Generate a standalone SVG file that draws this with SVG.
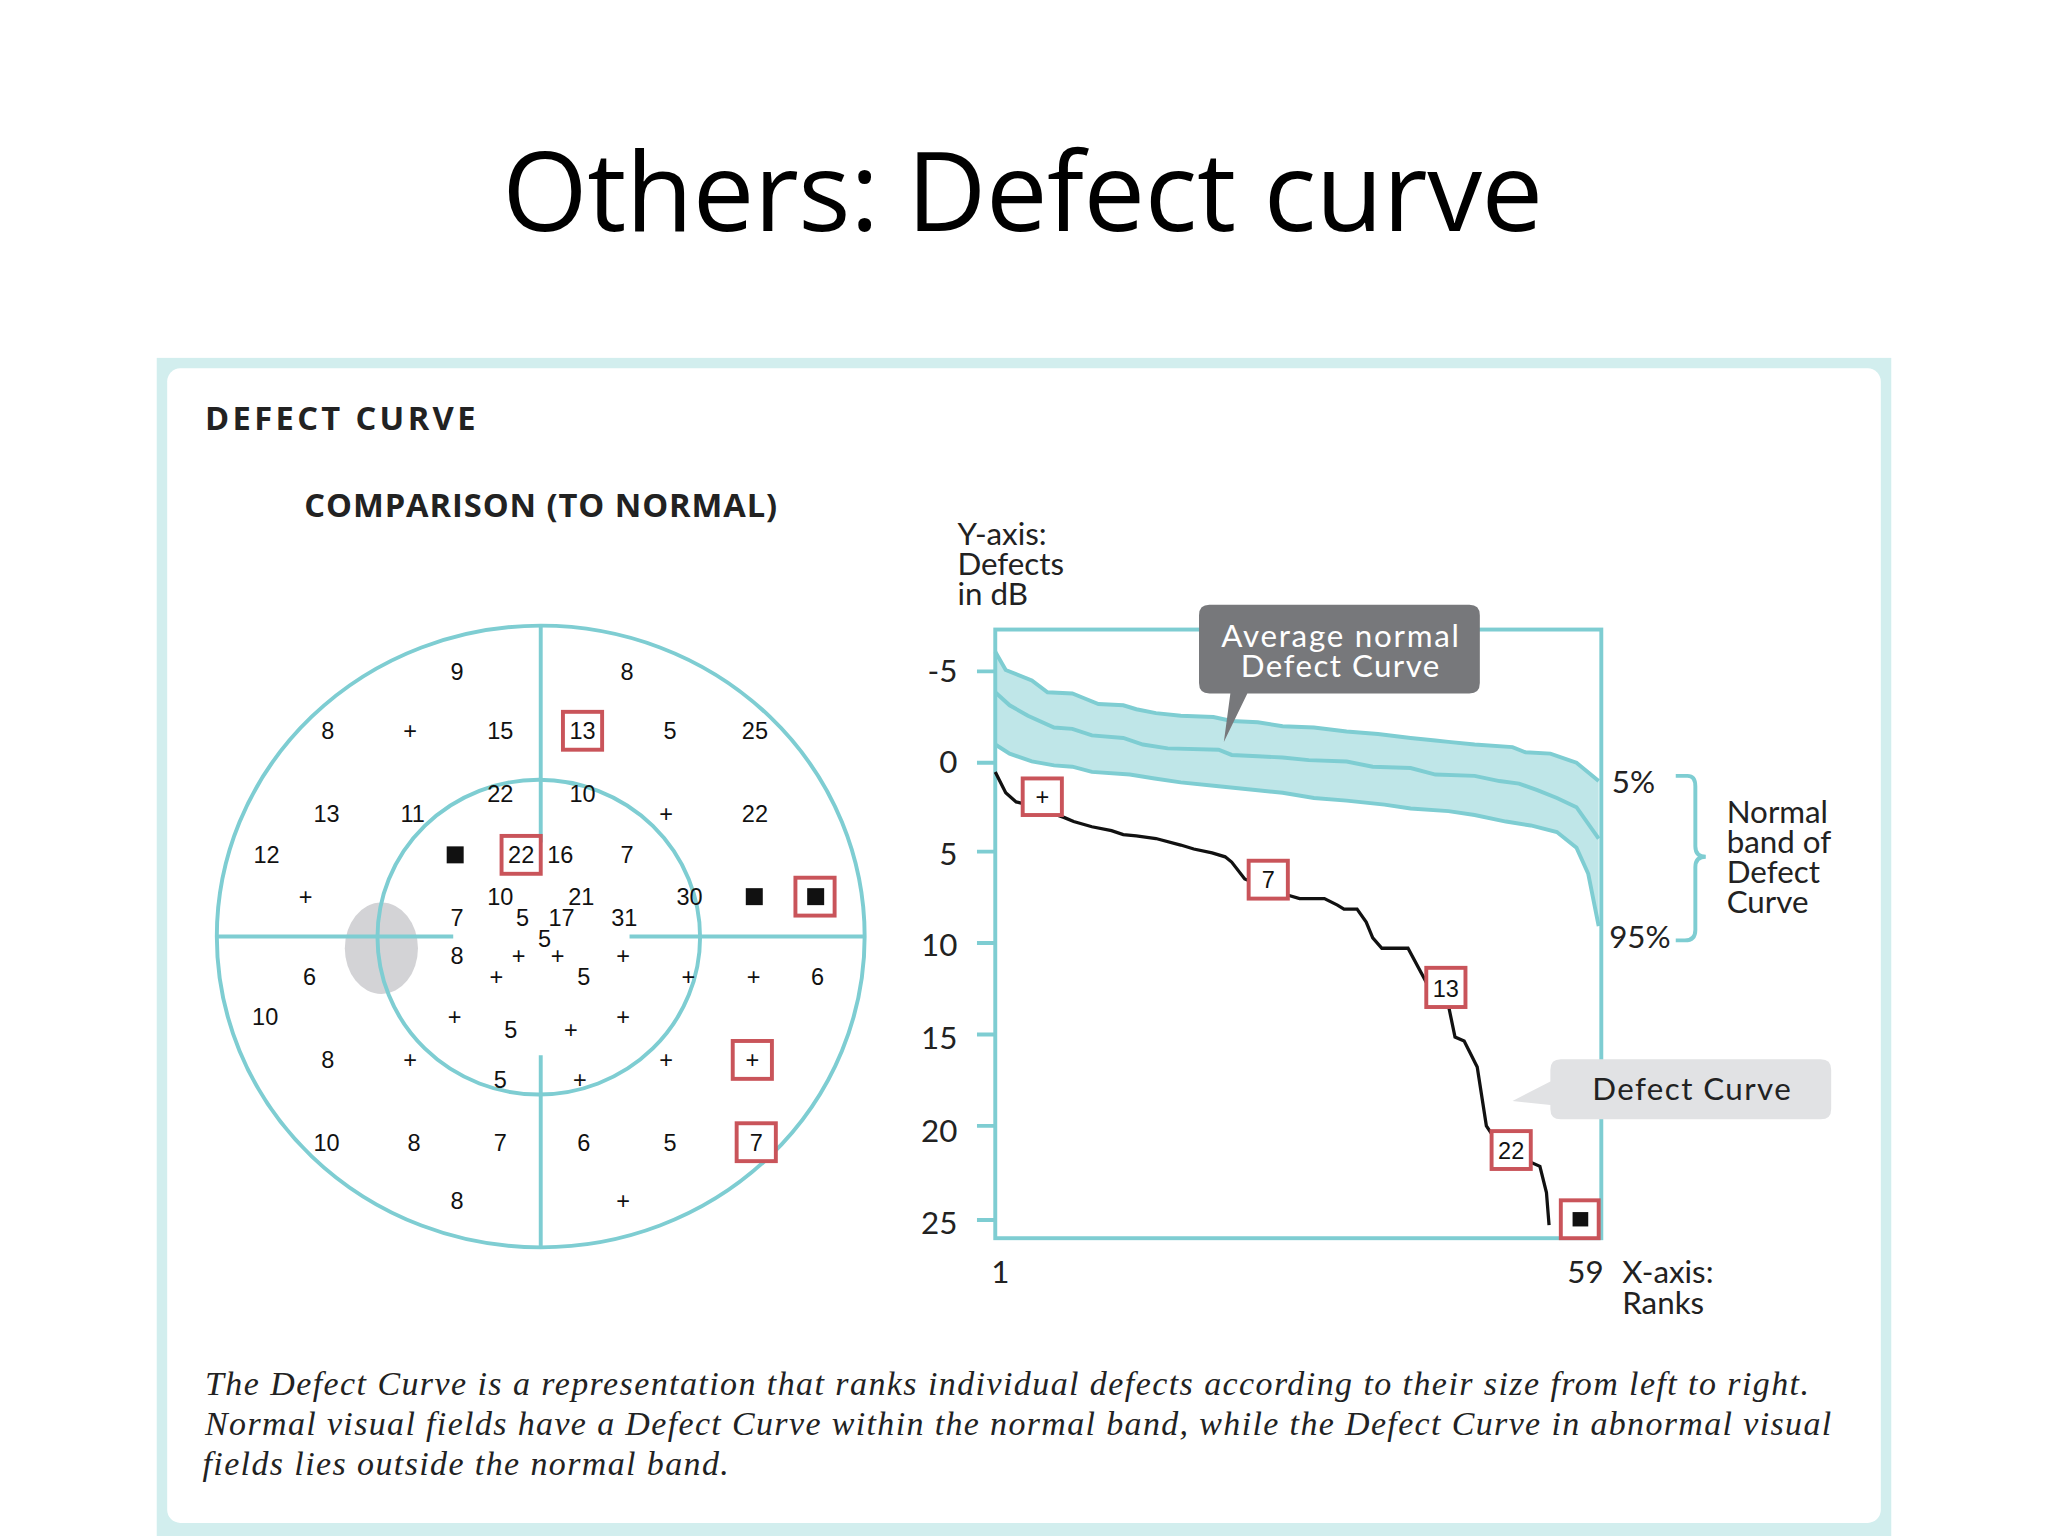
<svg xmlns="http://www.w3.org/2000/svg" width="2048" height="1536" viewBox="0 0 2048 1536">
<style>
.t{stroke:#7ecdd2;stroke-width:3;fill:none}
.n{font-family:"Liberation Sans",Arial,sans-serif;font-size:18px;fill:#111;text-anchor:middle}
.c{font-family:Lato,"Open Sans",sans-serif;font-size:24px;fill:#222}
.rb{fill:#fff;stroke:#c9545a;stroke-width:3}
.h{font-family:"Open Sans",sans-serif;font-weight:bold;fill:#222;font-size:25px}
.cap{font-family:"Liberation Serif",serif;font-style:italic;font-size:26px;fill:#222}
</style>
<rect width="2048" height="1536" fill="#fff"/>
<g transform="scale(1.30612)">
<text x="783" y="177" font-family="Open Sans, sans-serif" font-size="84" text-anchor="middle" fill="#000" textLength="797">Others: Defect curve</text>
<rect x="120" y="274" width="1328" height="920" fill="#d2eeee"/>
<rect x="128" y="282" width="1312" height="884" rx="10" fill="#fff"/>
<text class="h" x="157" y="329" textLength="207">DEFECT CURVE</text>
<text class="h" x="233" y="396" textLength="362">COMPARISON (TO NORMAL)</text>

<g id="field">
<ellipse cx="292" cy="726" rx="28" ry="35" fill="#d3d3d6"/>
<ellipse class="t" cx="414" cy="717" rx="248" ry="238"/>
<ellipse class="t" cx="412.5" cy="717.5" rx="123.5" ry="120.5"/>
<path class="t" d="M414 479V645M414 808V955M166 717H347M482 717H662"/>
<rect class="rb" x="431" y="545" width="30" height="29"/>
<rect class="rb" x="384" y="640" width="30" height="29"/>
<rect class="rb" x="609" y="672" width="30" height="29"/>
<rect class="rb" x="561" y="797" width="30" height="29"/>
<rect class="rb" x="564" y="860" width="30" height="29"/>
<rect x="342" y="648" width="13" height="13" fill="#111"/>
<rect x="571" y="680" width="13" height="13" fill="#111"/>
<rect x="618" y="680" width="13" height="13" fill="#111"/>
<g class="n">
<text x="350" y="521">9</text><text x="480" y="521">8</text>
<text x="251" y="566">8</text><text x="314" y="566">+</text><text x="383" y="566">15</text><text x="446" y="566">13</text><text x="513" y="566">5</text><text x="578" y="566">25</text>
<text x="383" y="614">22</text><text x="446" y="614">10</text>
<text x="250" y="629">13</text><text x="316" y="629">11</text><text x="510" y="629">+</text><text x="578" y="629">22</text>
<text x="204" y="661">12</text><text x="399" y="661">22</text><text x="429" y="661">16</text><text x="480" y="661">7</text>
<text x="234" y="693">+</text><text x="383" y="693">10</text><text x="445" y="693">21</text><text x="528" y="693">30</text>
<text x="350" y="709">7</text><text x="400" y="709">5</text><text x="430" y="709">17</text><text x="478" y="709">31</text>
<text x="417" y="725">5</text>
<text x="350" y="738">8</text><text x="397" y="738">+</text><text x="427" y="738">+</text><text x="477" y="738">+</text>
<text x="237" y="754">6</text><text x="380" y="754">+</text><text x="447" y="754">5</text><text x="527" y="754">+</text><text x="577" y="754">+</text><text x="626" y="754">6</text>
<text x="203" y="785">10</text><text x="348" y="785">+</text><text x="477" y="785">+</text>
<text x="391" y="795">5</text><text x="437" y="795">+</text>
<text x="251" y="818">8</text><text x="314" y="818">+</text><text x="510" y="818">+</text><text x="576" y="818">+</text>
<text x="383" y="833">5</text><text x="444" y="833">+</text>
<text x="250" y="881">10</text><text x="317" y="881">8</text><text x="383" y="881">7</text><text x="447" y="881">6</text><text x="513" y="881">5</text><text x="579" y="881">7</text>
<text x="350" y="926">8</text><text x="477" y="926">+</text>
</g>
</g>

<g id="chart">
<path d="M762,499 L770,513 790,521 802,530 821,531 831,535 841,539 860,540 870,543 885,546 904,548 929,549 943,552 963,553 982,556 1006,557 1031,560 1055,562 1080,565 1099,567 1109,568 1129,570 1158,572 1168,576 1187,577 1207,584 1224,598 1224,709 1216,669 1207,649 1192,637 1172,632 1153,629 1129,624 1109,621 1080,619 1060,616 1031,613 1006,611 982,607 963,605 933,602 904,599 884,596 865,593 836,591 821,587 807,586 790,583 773,577 762,570Z" fill="#bfe6e8"/>
<path class="t" d="M762,499 L770,513 790,521 802,530 821,531 831,535 841,539 860,540 870,543 885,546 904,548 929,549 943,552 963,553 982,556 1006,557 1031,560 1055,562 1080,565 1099,567 1109,568 1129,570 1158,572 1168,576 1187,577 1207,584 1224,598"/>
<path class="t" d="M762,530 L773,540 787,548 807,557 821,558 836,563 860,565 875,570 894,573 933,574 943,578 963,579 982,580 1002,582 1031,583 1051,587 1080,588 1099,593 1129,594 1148,598 1163,600 1177,605 1192,611 1207,618 1224,642"/>
<path class="t" d="M762,570 L773,577 790,583 807,586 821,587 836,591 865,593 884,596 904,599 933,602 963,605 982,607 1006,611 1031,613 1060,616 1080,619 1109,621 1129,624 1153,629 1172,632 1192,637 1207,649 1216,669 1224,709"/>
<rect class="t" x="762" y="482" width="464" height="466"/>
<path class="t" d="M748 514H762M748 584H762M748 652H762M748 722H762M748 792H762M748 862H762M748 934H762"/>
<path d="M762,591 L770,607 778,614 790,617 815,626 822,629 836,633 851,636 860,639 870,640 885,642 904,647 914,650 928,653 938,656 943,660 953,673 975,682 985,685 995,688 1014,688 1024,693 1029,696 1039,696 1046,706 1051,718 1058,726 1078,726 1092,752 1109,770 1114,794 1121,797 1131,817 1138,862 1150,880 1179,893 1184,913 1186,938" fill="none" stroke="#111" stroke-width="2.5"/>
<rect class="rb" x="783" y="596" width="30" height="28"/>
<rect class="rb" x="956" y="659" width="30" height="29"/>
<rect class="rb" x="1092" y="741" width="30" height="30"/>
<rect class="rb" x="1142" y="866" width="30" height="29"/>
<rect class="rb" x="1195" y="919" width="29" height="29"/>
<rect x="1204" y="928" width="12" height="11" fill="#111"/>
<g class="n"><text x="798" y="616">+</text><text x="971" y="680">7</text><text x="1107" y="763">13</text><text x="1157" y="887">22</text></g>
<g class="c" text-anchor="end"><text x="733" y="522">-5</text><text x="733" y="592">0</text><text x="733" y="662">5</text><text x="733" y="732">10</text><text x="733" y="803">15</text><text x="733" y="874">20</text><text x="733" y="945">25</text></g>
<g class="c"><text x="759" y="982">1</text><text x="1200" y="982">59</text><text x="1242" y="982">X-axis:</text><text x="1242" y="1006">Ranks</text>
<text x="733" y="417">Y-axis:</text><text x="733" y="440">Defects</text><text x="733" y="463">in dB</text>
<text x="1234" y="607">5%</text><text x="1232" y="726">95%</text>
<text x="1322" y="630">Normal</text><text x="1322" y="653">band of</text><text x="1322" y="676">Defect</text><text x="1322" y="699">Curve</text></g>
<path class="t" d="M1283,594 H1292 Q1298,594 1298,602 V648 Q1298,656 1306,656 Q1298,656 1298,664 V712 Q1298,720 1290,720 H1283"/>
<path d="M926,463 H1125 Q1133,463 1133,471 V523 Q1133,531 1125,531 H955 L937,568 L942,531 H926 Q918,531 918,523 V471 Q918,463 926,463Z" fill="#77787b"/>
<g class="c" text-anchor="middle" style="fill:#fff"><text x="1026" y="495" textLength="182">Average normal</text><text x="1026" y="518" textLength="152">Defect Curve</text></g>
<path d="M1195,811 H1394 Q1402,811 1402,819 V849 Q1402,857 1394,857 H1195 Q1187,857 1187,849 V846 L1158,843 L1187,828 V819 Q1187,811 1195,811Z" fill="#e1e2e4"/>
<text class="c" x="1295" y="842" text-anchor="middle" textLength="152">Defect Curve</text>
</g>

<g class="cap">
<text x="157" y="1068" textLength="1228">The Defect Curve is a representation that ranks individual defects according to their size from left to right.</text>
<text x="157" y="1099" textLength="1245">Normal visual fields have a Defect Curve within the normal band, while the Defect Curve in abnormal visual</text>
<text x="155" y="1129" textLength="403">fields lies outside the normal band.</text>
</g>
</g>
</svg>
